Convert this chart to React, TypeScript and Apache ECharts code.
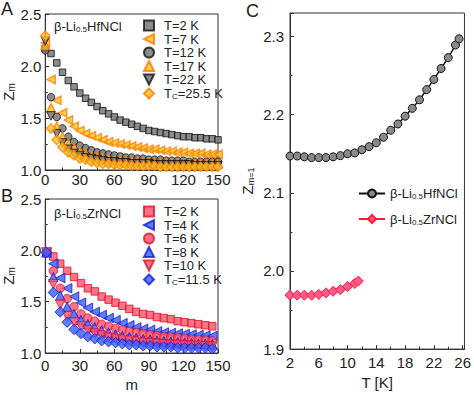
import React, { useEffect, useRef } from "react";
import * as echarts from "echarts";

// ---------- data ----------
const mA = [0, 5, 10, 15, 20, 25, 30, 35, 40, 45, 50, 55, 60, 65, 70, 75, 80, 85, 90, 95, 100, 105, 110, 115, 120, 125, 130, 135, 140, 145, 150];
const hfT2 = [2.17, 2.12, 2.03, 1.94, 1.86, 1.80, 1.74, 1.69, 1.65, 1.61, 1.57, 1.54, 1.51, 1.48, 1.46, 1.44, 1.42, 1.40, 1.38, 1.37, 1.36, 1.35, 1.34, 1.33, 1.32, 1.32, 1.31, 1.31, 1.30, 1.30, 1.29];
const hfT7 = [2.22, 1.87, 1.67, 1.55, 1.48, 1.42, 1.38, 1.35, 1.33, 1.31, 1.29, 1.27, 1.26, 1.25, 1.24, 1.23, 1.22, 1.21, 1.20, 1.20, 1.19, 1.18, 1.18, 1.17, 1.17, 1.16, 1.16, 1.16, 1.15, 1.15, 1.15];
const hfT12 = [2.15, 1.70, 1.51, 1.40, 1.32, 1.27, 1.235, 1.21, 1.19, 1.17, 1.16, 1.15, 1.14, 1.13, 1.12, 1.12, 1.11, 1.11, 1.10, 1.10, 1.10, 1.09, 1.09, 1.09, 1.09, 1.08, 1.08, 1.08, 1.08, 1.08, 1.08];
const hfT17 = [2.20, 1.60, 1.42, 1.32, 1.25, 1.21, 1.18, 1.16, 1.14, 1.13, 1.12, 1.11, 1.10, 1.10, 1.09, 1.09, 1.08, 1.08, 1.08, 1.07, 1.07, 1.07, 1.07, 1.07, 1.06, 1.06, 1.06, 1.06, 1.06, 1.06, 1.06];
const hfT22 = [2.24, 1.52, 1.35, 1.26, 1.20, 1.16, 1.14, 1.12, 1.11, 1.10, 1.09, 1.08, 1.08, 1.07, 1.07, 1.06, 1.06, 1.06, 1.06, 1.05, 1.05, 1.05, 1.05, 1.05, 1.05, 1.05, 1.04, 1.04, 1.04, 1.04, 1.04];
const hfTc = [2.29, 1.40, 1.29, 1.22, 1.17, 1.14, 1.11, 1.10, 1.08, 1.07, 1.06, 1.06, 1.05, 1.05, 1.05, 1.04, 1.04, 1.04, 1.04, 1.04, 1.03, 1.03, 1.03, 1.03, 1.03, 1.03, 1.03, 1.03, 1.03, 1.03, 1.03];

const mB = [1, 7, 13, 19, 25, 31, 37, 43, 49, 55, 61, 67, 73, 79, 85, 91, 97, 103, 109, 115, 121, 127, 133, 139, 145];
const zrT2 = [1.98, 1.94, 1.87, 1.80, 1.74, 1.68, 1.63, 1.60, 1.55, 1.52, 1.49, 1.46, 1.43, 1.40, 1.38, 1.37, 1.35, 1.34, 1.33, 1.31, 1.30, 1.29, 1.28, 1.27, 1.26];
const zrT4 = [1.98, 1.87, 1.73, 1.63, 1.55, 1.49, 1.44, 1.40, 1.37, 1.34, 1.32, 1.29, 1.27, 1.25, 1.235, 1.225, 1.21, 1.20, 1.195, 1.19, 1.185, 1.18, 1.175, 1.17, 1.165];
const zrT6 = [1.98, 1.80, 1.63, 1.53, 1.45, 1.38, 1.34, 1.31, 1.28, 1.26, 1.24, 1.225, 1.21, 1.20, 1.19, 1.18, 1.17, 1.16, 1.155, 1.15, 1.14, 1.135, 1.13, 1.125, 1.12];
const zrT8 = [1.98, 1.74, 1.56, 1.45, 1.38, 1.32, 1.28, 1.25, 1.22, 1.20, 1.18, 1.165, 1.155, 1.145, 1.135, 1.13, 1.12, 1.115, 1.11, 1.105, 1.10, 1.095, 1.09, 1.09, 1.085];
const zrT10 = [1.98, 1.67, 1.47, 1.36, 1.30, 1.26, 1.22, 1.19, 1.17, 1.15, 1.14, 1.13, 1.12, 1.11, 1.10, 1.095, 1.09, 1.085, 1.08, 1.08, 1.075, 1.07, 1.07, 1.065, 1.06];
const zrTc = [1.98, 1.59, 1.40, 1.30, 1.23, 1.19, 1.16, 1.14, 1.12, 1.11, 1.10, 1.09, 1.08, 1.08, 1.07, 1.07, 1.06, 1.06, 1.06, 1.05, 1.05, 1.05, 1.05, 1.05, 1.04];

const tHf = [2, 3, 4, 5, 6, 7, 8, 9, 10, 11, 12, 13, 14, 15, 16, 17, 18, 19, 20, 21, 22, 23, 24, 25, 25.5];
const zHf = [2.147, 2.147, 2.146, 2.145, 2.145, 2.145, 2.146, 2.1475, 2.150, 2.151, 2.155, 2.159, 2.164, 2.171, 2.180, 2.188, 2.198, 2.208, 2.219, 2.232, 2.245, 2.259, 2.273, 2.289, 2.297];
const tZr = [2, 3, 4, 5, 6, 7, 8, 9, 10, 11, 11.5];
const zZr = [1.969, 1.969, 1.969, 1.969, 1.970, 1.972, 1.974, 1.976, 1.980, 1.984, 1.987];

const hfLabels = ["T=2 K", "T=7 K", "T=12 K", "T=17 K", "T=22 K", "T_C=25.5 K"];
const zrLabels = ["T=2 K", "T=4 K", "T=6 K", "T=8 K", "T=10 K", "T_C=11.5 K"];

// ---------- styles ----------
const FONT = "Liberation Sans, Arial, sans-serif";
const TXT = "#222";

const gray = { color: "#6f6f6f", borderColor: "#111", borderWidth: 1 };
const grayC = { color: "#8a8a8a", borderColor: "#111", borderWidth: 1 };
const orng = { color: "#ffc21a", borderColor: "#ff7a00", borderWidth: 1.3 };
const red = { color: "#ff5068", borderColor: "#e0102a", borderWidth: 1 };
const blue = { color: "#3a5cff", borderColor: "#1020c8", borderWidth: 1 };

const SYMS = ["rect", "triangle", "circle", "triangle", "triangle", "diamond"];
const ROTS = [0, 90, 0, 0, 180, 0];
const ICONS = [
  "rect",
  "path://M10,0L10,10L0,5Z",
  "circle",
  "path://M5,0L10,10L0,10Z",
  "path://M0,0L10,0L5,10Z",
  "path://M5,0L10,5L5,10L0,5Z",
];

const zip = (xs: number[], ys: number[]) => xs.map((x, i) => [x, ys[i]]);

const sub = { fontSize: 8, padding: [6, 0, 0, 0], fontFamily: FONT, color: TXT, fontWeight: "normal" };

function legendFmt(name: string) {
  const s = name.slice(2);
  if (s.startsWith("T_C")) return "{n|T}{sub|C}{n|" + s.slice(3) + "}";
  return "{n|" + s + "}";
}

function scatter(name: string, xi: number, data: number[][], k: number, size: number, style: any) {
  return {
    type: "scatter",
    name,
    xAxisIndex: xi,
    yAxisIndex: xi,
    data,
    symbol: SYMS[k],
    symbolRotate: ROTS[k],
    symbolSize: size,
    itemStyle: style,
    z: 2,
  };
}

function axisCommon() {
  return {
    axisLine: { show: true, lineStyle: { color: "#333", width: 1 } },
    axisTick: { show: true, inside: true, length: 4, lineStyle: { color: "#333" } },
    minorTick: { show: true, splitNumber: 2, length: 2.5, lineStyle: { color: "#333" } },
    splitLine: { show: false },
    axisLabel: { color: TXT, fontSize: 15, fontFamily: FONT },
  };
}

function legendBlock(labels: string[], prefix: string, top: number) {
  return {
    orient: "vertical", left: 143, top, itemWidth: 10, itemHeight: 10, itemGap: 0.5, padding: 0,
    data: labels.map((l, i) => ({ name: prefix + l, icon: ICONS[i] })),
    formatter: legendFmt,
    textStyle: {
      padding: [0, 0, 0, 5],
      rich: {
        n: { fontSize: 13, color: TXT, fontFamily: FONT, lineHeight: 10 },
        sub: { ...sub, lineHeight: 10 },
      },
    },
  };
}

export default function App() {
  const ref = useRef<HTMLDivElement>(null);
  useEffect(() => {
    if (!ref.current) return;
    const chart = echarts.init(ref.current, undefined, { renderer: "svg" });
    const ac = axisCommon();
    const nameRich = (s: number) => ({
      rich: {
        z: { fontSize: 15, color: TXT, fontFamily: FONT },
        s: { ...sub, fontSize: s, padding: [6, 0, 0, 0] },
      },
    });
    const option: any = {
      animation: false,
      backgroundColor: "#fff",
      textStyle: { fontFamily: FONT },
      grid: [
        { left: 41, top: 14, width: 177, height: 156, show: true, borderColor: "#333", borderWidth: 1, backgroundColor: "transparent" },
        { left: 41, top: 199, width: 177, height: 154, show: true, borderColor: "#333", borderWidth: 1, backgroundColor: "transparent" },
        { left: 290, top: 13, width: 178, height: 340, show: true, borderColor: "#333", borderWidth: 1, backgroundColor: "transparent" },
      ],
      xAxis: [
        { type: "value", gridIndex: 0, min: 0, max: 150, interval: 30, ...ac, axisLabel: { ...ac.axisLabel, margin: 2 } },
        {
          type: "value", gridIndex: 1, min: 0, max: 150, interval: 30, ...ac, axisLabel: { ...ac.axisLabel, margin: 5 },
          name: "m", nameLocation: "middle", nameGap: 24, nameTextStyle: { color: TXT, fontSize: 15, fontFamily: FONT },
        },
        {
          type: "value", gridIndex: 2, min: 2, max: 26.25, interval: 4, ...ac,
          axisLabel: {
            ...ac.axisLabel, margin: 6,
            formatter: (v: number) => (Math.abs((v - 2) / 4 - Math.round((v - 2) / 4)) < 1e-6 ? String(v) : ""),
          },
          name: "T [K]", nameLocation: "middle", nameGap: 24, nameTextStyle: { color: TXT, fontSize: 15, fontFamily: FONT },
        },
      ],
      yAxis: [
        {
          type: "value", gridIndex: 0, min: 1, max: 2.5, interval: 0.5, ...ac,
          axisLabel: { ...ac.axisLabel, margin: 4, formatter: (v: number) => v.toFixed(1) },
          name: "{z|Z}{s|m}", nameLocation: "middle", nameGap: 23, nameRotate: 90, nameTextStyle: nameRich(10),
        },
        {
          type: "value", gridIndex: 1, min: 1, max: 2.5, interval: 0.5, ...ac,
          axisLabel: { ...ac.axisLabel, margin: 4, formatter: (v: number) => v.toFixed(1) },
          name: "{z|Z}{s|m}", nameLocation: "middle", nameGap: 23, nameRotate: 90, nameTextStyle: nameRich(10),
        },
        {
          type: "value", gridIndex: 2, min: 1.9, max: 2.33, interval: 0.1, ...ac,
          axisLabel: {
            ...ac.axisLabel, margin: 6,
            formatter: (v: number) => (Math.abs(v * 10 - Math.round(v * 10)) < 1e-6 ? v.toFixed(1) : ""),
          },
          name: "{z|Z}{s|m=1}", nameLocation: "middle", nameGap: 35, nameRotate: 90, nameTextStyle: nameRich(9),
        },
      ],
      title: [
        { text: "A", left: 1, top: 0, textStyle: { fontSize: 18, fontWeight: "normal", color: TXT, fontFamily: FONT }, padding: 0 },
        { text: "B", left: 1, top: 187, textStyle: { fontSize: 18, fontWeight: "normal", color: TXT, fontFamily: FONT }, padding: 0 },
        { text: "C", left: 246, top: 2, textStyle: { fontSize: 18, fontWeight: "normal", color: TXT, fontFamily: FONT }, padding: 0 },
        {
          text: "{n|β-Li}{sub|0.5}{n|HfNCl}", left: 54, top: 19, padding: 0,
          textStyle: { fontWeight: "normal", rich: { n: { fontSize: 13, color: TXT, fontFamily: FONT, fontWeight: "normal" }, sub } },
        },
        {
          text: "{n|β-Li}{sub|0.5}{n|ZrNCl}", left: 54, top: 206, padding: 0,
          textStyle: { fontWeight: "normal", rich: { n: { fontSize: 13, color: TXT, fontFamily: FONT, fontWeight: "normal" }, sub } },
        },
      ],
      legend: [
        legendBlock(hfLabels, "A ", 19),
        legendBlock(zrLabels, "B ", 205),
        {
          orient: "vertical", left: 358, top: 187, itemWidth: 26, itemHeight: 10, itemGap: 12, padding: 0,
          data: ["C Hf", "C Zr"],
          formatter: (n: string) => (n === "C Hf" ? "{n|β-Li}{sub|0.5}{n|HfNCl}" : "{n|β-Li}{sub|0.5}{n|ZrNCl}"),
          textStyle: { rich: { n: { fontSize: 13, color: TXT, fontFamily: FONT }, sub } },
        },
      ],
      series: [
        scatter("A T=2 K", 0, zip(mA, hfT2), 0, 6.5, gray),
        scatter("A T=7 K", 0, zip(mA, hfT7), 1, 8.5, orng),
        scatter("A T=12 K", 0, zip(mA, hfT12), 2, 7.5, gray),
        scatter("A T=17 K", 0, zip(mA, hfT17), 3, 8.5, orng),
        scatter("A T=22 K", 0, zip(mA, hfT22), 4, 8.5, gray),
        scatter("A T_C=25.5 K", 0, zip(mA, hfTc), 5, 9.5, orng),
        scatter("B T=2 K", 1, zip(mB, zrT2), 0, 7.5, red),
        scatter("B T=4 K", 1, zip(mB, zrT4), 1, 9.5, blue),
        scatter("B T=6 K", 1, zip(mB, zrT6), 2, 8.5, red),
        scatter("B T=8 K", 1, zip(mB, zrT8), 3, 9.5, blue),
        scatter("B T=10 K", 1, zip(mB, zrT10), 4, 9.5, red),
        scatter("B T_C=11.5 K", 1, zip(mB, zrTc), 5, 10.5, blue),
        {
          type: "line", name: "C Hf", xAxisIndex: 2, yAxisIndex: 2, data: zip(tHf, zHf),
          symbol: "circle", symbolSize: 8, showAllSymbol: true,
          lineStyle: { color: "#111", width: 1.5 }, itemStyle: grayC,
        },
        {
          type: "line", name: "C Zr", xAxisIndex: 2, yAxisIndex: 2, data: zip(tZr, zZr),
          symbol: "diamond", symbolSize: 10, showAllSymbol: true,
          lineStyle: { color: "#ff1a35", width: 1.5 }, itemStyle: { color: "#ff5a8a", borderColor: "#ff1a35", borderWidth: 1 },
        },
      ],
    };
    chart.setOption(option);
    return () => chart.dispose();
  }, []);
  return <div ref={ref} style={{ width: 474, height: 395, position: "absolute", left: 0, top: 0 }} />;
}
